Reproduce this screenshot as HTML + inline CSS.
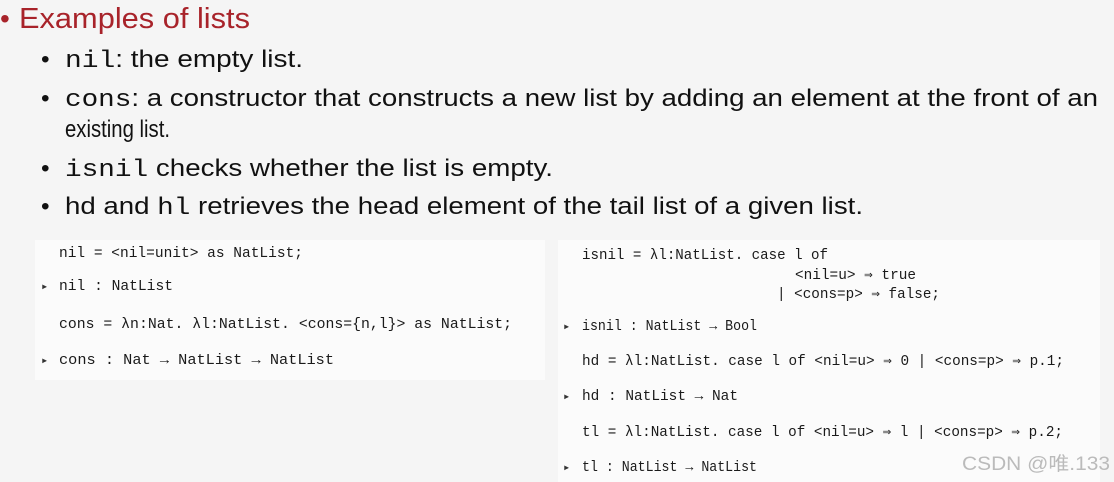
<!DOCTYPE html>
<html><head><meta charset="utf-8"><style>
html,body{margin:0;padding:0;background:#f5f5f5;}
svg{display:block}
.b{font-family:"Liberation Sans",sans-serif;font-size:24.5px;fill:#111}
.m{font-family:"Liberation Mono",monospace}
.c{font-family:"Liberation Mono","DejaVu Sans Mono",monospace;font-size:14.5px;fill:#1a1a1a}
.a{font-size:12px;fill:#333}
</style></head><body>
<svg width="1114" height="482" viewBox="0 0 1114 482">
<rect width="1114" height="482" fill="#f5f5f5"/>
<rect x="35" y="240" width="510" height="140" fill="#fbfbfb"/>
<rect x="558" y="240" width="542" height="242" fill="#fbfbfb"/>
<text x="0" y="28" font-family="Liberation Sans,sans-serif" font-size="28" fill="#a8232a">•</text>
<text x="19" y="28" font-family="Liberation Sans,sans-serif" font-size="29" fill="#a8232a" textLength="231" lengthAdjust="spacingAndGlyphs">Examples of lists</text>
<g class="b">
<text x="41" y="67">•</text><text x="41" y="106">•</text><text x="41" y="176">•</text><text x="41" y="214">•</text>
<text x="65" y="67" textLength="238" lengthAdjust="spacingAndGlyphs"><tspan class="m">nil</tspan>: the empty list.</text>
<text x="65" y="106" textLength="1033" lengthAdjust="spacingAndGlyphs"><tspan class="m">cons</tspan>: a constructor that constructs a new list by adding an element at the front of an</text>
<text x="65" y="137" textLength="105" lengthAdjust="spacingAndGlyphs">existing list.</text>
<text x="65" y="176" textLength="488" lengthAdjust="spacingAndGlyphs"><tspan class="m">isnil</tspan> checks whether the list is empty.</text>
<text x="65" y="214" textLength="798" lengthAdjust="spacingAndGlyphs">hd and <tspan class="m">hl</tspan> retrieves the head element of the tail list of a given list.</text>
</g>
<g class="c">
<text x="59" y="257" textLength="244" lengthAdjust="spacingAndGlyphs">nil = &lt;nil=unit&gt; as NatList;</text>
<text class="a" x="41" y="290">▸</text>
<text x="59" y="290" textLength="114" lengthAdjust="spacingAndGlyphs">nil : NatList</text>
<text x="59" y="328" textLength="453" lengthAdjust="spacingAndGlyphs">cons = λn:Nat. λl:NatList. &lt;cons={n,l}&gt; as NatList;</text>
<text class="a" x="41" y="364">▸</text>
<text x="59" y="364" textLength="275" lengthAdjust="spacingAndGlyphs">cons : Nat → NatList → NatList</text>

<text x="582" y="259" textLength="246" lengthAdjust="spacingAndGlyphs">isnil = λl:NatList. case l of</text>
<text x="795" y="279" textLength="121" lengthAdjust="spacingAndGlyphs">&lt;nil=u&gt; ⇒ true</text>
<text x="777" y="298" textLength="163" lengthAdjust="spacingAndGlyphs">| &lt;cons=p&gt; ⇒ false;</text>
<text class="a" x="563" y="330">▸</text>
<text x="582" y="330" textLength="175" lengthAdjust="spacingAndGlyphs">isnil : NatList → Bool</text>
<text x="582" y="365" textLength="482" lengthAdjust="spacingAndGlyphs">hd = λl:NatList. case l of &lt;nil=u&gt; ⇒ 0 | &lt;cons=p&gt; ⇒ p.1;</text>
<text class="a" x="563" y="400">▸</text>
<text x="582" y="400" textLength="156" lengthAdjust="spacingAndGlyphs">hd : NatList → Nat</text>
<text x="582" y="436" textLength="481" lengthAdjust="spacingAndGlyphs">tl = λl:NatList. case l of &lt;nil=u&gt; ⇒ l | &lt;cons=p&gt; ⇒ p.2;</text>
<text class="a" x="563" y="471">▸</text>
<text x="582" y="471" textLength="175" lengthAdjust="spacingAndGlyphs">tl : NatList → NatList</text>
</g>
<text x="962" y="470" font-family="Liberation Sans,'Noto Sans CJK SC',sans-serif" font-size="19" fill="#bbb" textLength="148" lengthAdjust="spacingAndGlyphs">CSDN @唯.133</text>
</svg>
</body></html>
